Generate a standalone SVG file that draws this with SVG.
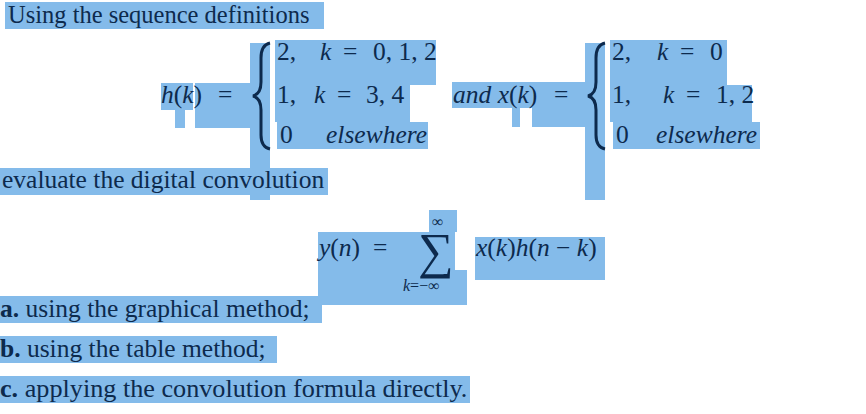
<svg xmlns="http://www.w3.org/2000/svg" width="866" height="414" viewBox="0 0 866 414">
<style>
.h{fill:#84bbea}
text{font-family:"Liberation Serif",serif;font-size:25.5px;fill:#0d2a4d}
.i{font-style:italic}
.s{font-size:16px}
.br{fill:none;stroke:#0d2a4d;stroke-width:3}
</style>
<rect width="866" height="414" fill="#fff"/>
<g id="highlights">
<rect class="h" x="5" y="2" width="319" height="27"/>
<rect class="h" x="161" y="83" width="14" height="27"/>
<rect class="h" x="175" y="83" width="10" height="45"/>
<rect class="h" x="185" y="83" width="8" height="27"/>
<rect class="h" x="195" y="83" width="55" height="45"/>
<rect class="h" x="250" y="43" width="20" height="157"/>
<rect class="h" x="275" y="40" width="161" height="45"/>
<rect class="h" x="275" y="85" width="135" height="37"/>
<rect class="h" x="277" y="122" width="151" height="27"/>
<rect class="h" x="452" y="82" width="60" height="26"/>
<rect class="h" x="512" y="82" width="8" height="45"/>
<rect class="h" x="520" y="82" width="12" height="26"/>
<rect class="h" x="532" y="82" width="53" height="45"/>
<rect class="h" x="585" y="43" width="20" height="157"/>
<rect class="h" x="610" y="40" width="117" height="45"/>
<rect class="h" x="610" y="85" width="142" height="37"/>
<rect class="h" x="613" y="122" width="147" height="27"/>
<rect class="h" x="0" y="168" width="328" height="27"/>
<rect class="h" x="318" y="232" width="137" height="73"/>
<rect class="h" x="429" y="210" width="28" height="22"/>
<rect class="h" x="455" y="270" width="12" height="35"/>
<rect class="h" x="475" y="237" width="130" height="43"/>
<rect class="h" x="0" y="296" width="322" height="27"/>
<rect class="h" x="0" y="336" width="277" height="27"/>
<rect class="h" x="0" y="376" width="470" height="27"/>
</g>
<g id="braces">
<path class="br" d="M270,43 Q261,45 261,58 L261,82 Q261,94 253,96 Q261,98 261,110 L261,135 Q261,147 270,149"/>
<path class="br" d="M605,43 Q596,45 596,58 L596,82 Q596,94 588,96 Q596,98 596,110 L596,135 Q596,147 605,149"/>
</g>
<g id="text">
<text x="8" y="23" style="font-size:24.5px">Using the sequence definitions</text>
<text y="103"><tspan x="161" class="i">h</tspan><tspan>(</tspan><tspan class="i">k</tspan><tspan>)</tspan><tspan x="218">=</tspan></text>
<text y="60"><tspan x="277">2,</tspan><tspan x="320" class="i">k</tspan><tspan x="343">=</tspan><tspan x="373">0, 1, 2</tspan></text>
<text y="103"><tspan x="277">1,</tspan><tspan x="314" class="i">k</tspan><tspan x="337">=</tspan><tspan x="366">3, 4</tspan></text>
<text y="143"><tspan x="280">0</tspan><tspan x="326" class="i">elsewhere</tspan></text>
<text y="103"><tspan x="453" class="i">and x</tspan><tspan>(</tspan><tspan class="i">k</tspan><tspan>)</tspan><tspan x="554">=</tspan></text>
<text y="60"><tspan x="612">2,</tspan><tspan x="657" class="i">k</tspan><tspan x="680">=</tspan><tspan x="710">0</tspan></text>
<text y="103"><tspan x="612">1,</tspan><tspan x="663" class="i">k</tspan><tspan x="686">=</tspan><tspan x="716">1, 2</tspan></text>
<text y="143"><tspan x="616">0</tspan><tspan x="656" class="i">elsewhere</tspan></text>
<text x="2" y="188">evaluate the digital convolution</text>
<text y="256"><tspan x="319" class="i">y</tspan><tspan>(</tspan><tspan class="i">n</tspan><tspan>)</tspan><tspan x="373">=</tspan></text>
<text x="418" y="268" style="font-size:50px">∑</text>
<text x="432" y="227" class="s">∞</text>
<text x="403" y="291" class="s"><tspan class="i">k</tspan>=−∞</text>
<text x="476" y="256"><tspan class="i">x</tspan>(<tspan class="i">k</tspan>)<tspan class="i">h</tspan>(<tspan class="i">n</tspan> − <tspan class="i">k</tspan>)</text>
<text x="0" y="317"><tspan font-weight="bold">a.</tspan> using the graphical method;</text>
<text x="0" y="357"><tspan font-weight="bold">b.</tspan> using the table method;</text>
<text x="0" y="397" style="font-size:26.2px"><tspan font-weight="bold">c.</tspan> applying the convolution formula directly.</text>
</g>
</svg>
